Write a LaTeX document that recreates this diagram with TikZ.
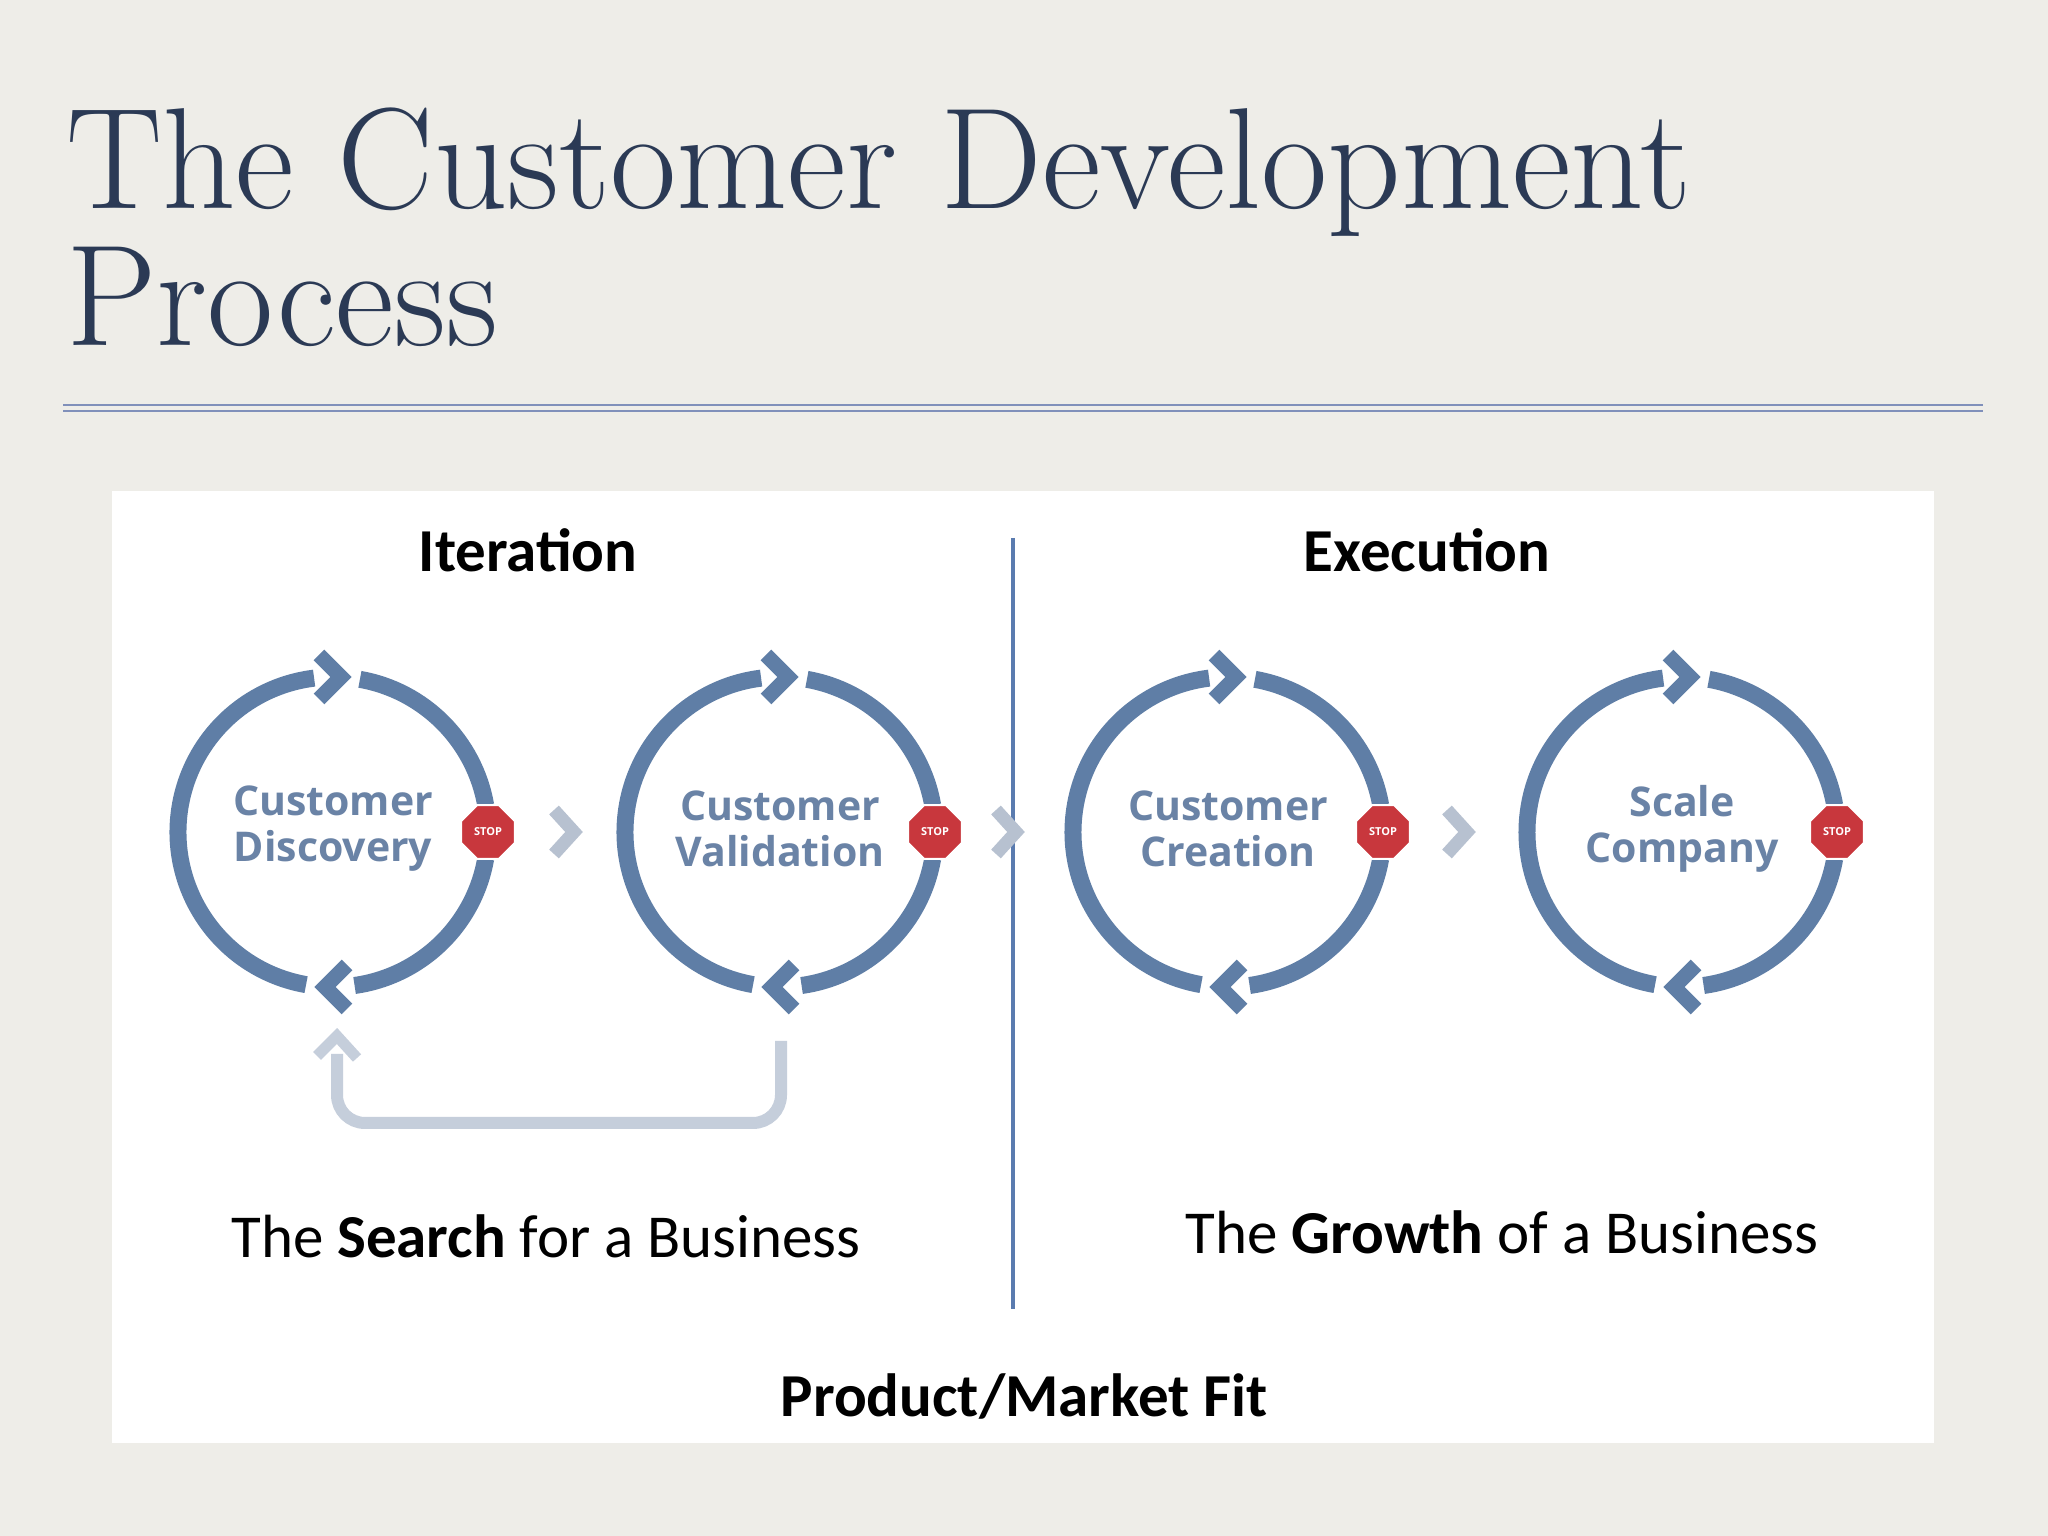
\documentclass[tikz,border=0pt]{standalone}
\usepackage{fontspec}
\newfontfamily\carlitofont{Carlito}
\newfontfamily\osans{Open Sans}
\usetikzlibrary{shapes.geometric}
\definecolor{paper}{HTML}{EEEDE8}
\definecolor{navy}{HTML}{2B3A55}
\definecolor{rule}{HTML}{8090BA}
\definecolor{vline}{HTML}{5A7BAF}
\definecolor{ring}{HTML}{5F7EA6}
\definecolor{ringtxt}{HTML}{6A83A6}
\definecolor{stopred}{HTML}{C8373D}
\definecolor{chev}{HTML}{B7C1D0}
\definecolor{fb}{HTML}{C5CEDB}
\tikzset{
  ringarc/.style={draw=ring,line width=17pt},
  chevron/.style={draw=ring,line width=15pt,miter limit=10},
  gchev/.style={draw=chev,line width=13pt,miter limit=10},
  ctext/.style={text=ringtxt,font=\osans\bfseries\fontsize{41}{46}\selectfont,align=center},
  stop/.style={regular polygon,regular polygon sides=8,fill=stopred,draw=white,line width=2pt,minimum size=58pt,inner sep=0pt,text=white,font=\osans\bfseries\fontsize{11}{11}\selectfont},
  head/.style={font=\carlitofont\bfseries\fontsize{61}{66}\selectfont},
  sub/.style={font=\carlitofont\fontsize{61}{66}\selectfont},
}
\begin{document}
\begin{tikzpicture}[x=1pt,y=1pt]
\fill[paper] (0,0) rectangle (2048,1536);
\useasboundingbox (0,0) rectangle (2048,1536);
\node[anchor=base west,inner sep=0,text=navy,font=\fontsize{144}{146}\selectfont] (t1) at (66,1327) {The Customer Development};
\node[anchor=base west,inner sep=0,text=navy,font=\fontsize{144}{146}\selectfont] (t2) at (66,1190) {Process};
\draw[rule,line width=1.5pt] (63,1131) -- (1983,1131);
\draw[rule,line width=1.5pt] (63,1125) -- (1983,1125);
\fill[white] (112,93) rectangle (1934,1045);
\draw[vline,line width=4pt] (1013,998) -- (1013,227);
\node[head] (it) at (528,986) {Iteration};
\node[head] (ex) at (1427,986) {Execution};
\foreach \cx/\n/\txt in {333/a/{Customer\\Discovery},780/b/{Customer\\Validation},1228/c/{Customer\\Creation},1682/d/{Scale\\Company}}{
  \draw[ringarc] (\cx,704) ++(80:155) arc (80:10:155);
  \draw[ringarc] (\cx,704) ++(-10:155) arc (-10:-82:155);
  \draw[ringarc] (\cx,704) ++(260:155) arc (260:97:155);
  \draw[chevron] (\cx-14,881) -- (\cx+8,859) -- (\cx-14,837);
  \draw[chevron] (\cx+14,571) -- (\cx-8,549) -- (\cx+14,527);
  \node[ctext] (\n) at (\cx,707) {\txt};
  \node[stop] (s\n) at (\cx+155,704) {STOP};
}
\foreach \x in {564,1006,1457}{
  \draw[gchev] (\x-10,726) -- (\x+10,704) -- (\x-10,682);
}
\coordinate (f0) at (781,495);
\coordinate (f1) at (781,413);
\coordinate (f2) at (337,413);
\coordinate (f3) at (337,482);
\draw[fb,line width=12pt,rounded corners=28pt] (f0) -- (f1) -- (f2) -- (f3);
\draw[fb,line width=11pt,miter limit=10] (f3)++(-20,-2) -- (337,500) -- ++(20,-22);
\node[sub] (s1) at (546,300) {The \textbf{Search} for a Business};
\node[sub] (s2) at (1502,304) {The \textbf{Growth} of a Business};
\node[head] (pmf) at (1024,140) {Product/Market Fit};
\end{tikzpicture}
\end{document}
